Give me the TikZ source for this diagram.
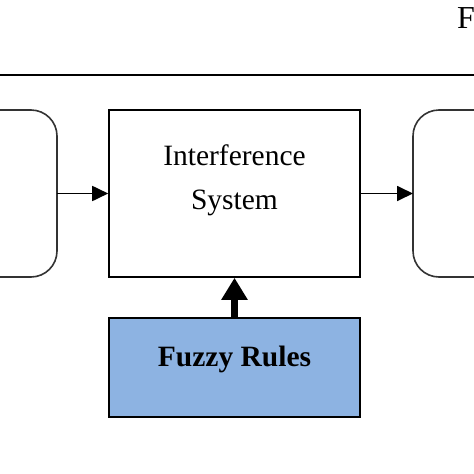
\documentclass[tikz,border=0pt]{standalone}
\usepackage{fontspec}
\setmainfont{Liberation Serif}
\usetikzlibrary{arrows.meta}
\definecolor{rulefill}{HTML}{8DB3E2}
\begin{document}
\begin{tikzpicture}[x=1pt,y=-1pt,
  plainbox/.style={draw=black,line width=1.6pt,inner sep=0pt},
  roundbox/.style={draw=black!80,line width=1.6pt,rounded corners=26pt},
  flowarrow/.style={line width=1.8pt,-{Triangle[length=16pt,width=15pt]}},
  bigarrow/.style={line width=7pt,-{Triangle[length=22pt,width=25pt]}},
  lbl/.style={font=\fontsize{29.5}{44}\selectfont,inner sep=0pt}]
\useasboundingbox (0,0) rectangle (474,474);
\begin{scope}
\clip (0,0) rectangle (474,474);
\node[font=\fontsize{32}{36}\selectfont,inner sep=0pt,anchor=base west] (fig) at (457,28) {F};
\coordinate (hl) at (-5,75);
\coordinate (hr) at (480,75);
\draw[line width=1.6pt] (hl) -- (hr);
\draw[roundbox] (-40,110) rectangle (57,277);
\draw[roundbox] (413,110) rectangle (520,277);
\end{scope}
\coordinate (lb) at (57,193.5);
\coordinate (rb) at (413,193.5);
\node[plainbox,minimum width=251pt,minimum height=167pt] (is) at (234.5,193.5) {};
\node[lbl,align=center,anchor=center] (istxt) at (234.5,180) {Interference\\System};
\node[plainbox,fill=rulefill,minimum width=251pt,minimum height=99pt] (fr) at (234.5,367.5) {};
\node[lbl,font=\fontsize{29.5}{44}\selectfont\bfseries] (frtxt) at (234.5,359) {Fuzzy Rules};
\draw[flowarrow] (lb) -- (is.west);
\draw[flowarrow] (is.east) -- (rb);
\draw[bigarrow] (fr.north) -- (is.south);
\end{tikzpicture}
\end{document}
